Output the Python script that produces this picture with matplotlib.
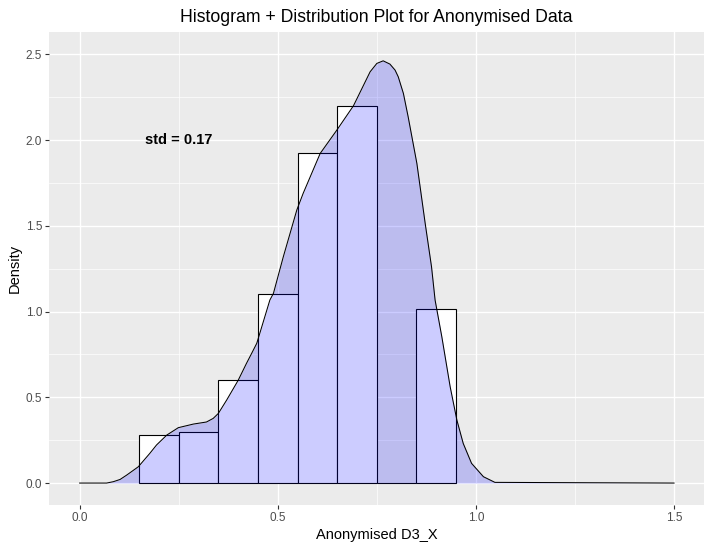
import matplotlib
matplotlib.use("Agg")
import matplotlib.pyplot as plt
from matplotlib.ticker import MultipleLocator

plt.rcParams['font.family'] = ['Liberation Sans', 'DejaVu Sans']

# Histogram bins (left edges, width) and densities
bin_left = [0.15, 0.25, 0.35, 0.45, 0.55, 0.65, 0.75, 0.85]
bin_width = 0.1
bin_density = [0.278, 0.296, 0.599, 1.10, 1.922, 2.200, 0.0, 1.016]

# Density curve
dens_x = [0.0, 0.068, 0.085, 0.102, 0.119, 0.148, 0.177, 0.194, 0.220, 0.249, 0.287,
          0.320, 0.337, 0.350, 0.371, 0.400, 0.421, 0.434, 0.447, 0.480, 0.489, 0.514,
          0.548, 0.564, 0.607, 0.649, 0.691, 0.733, 0.750, 0.766, 0.783, 0.796, 0.804,
          0.817, 0.829, 0.851, 0.872, 0.888, 0.897, 0.914, 0.935, 0.952, 0.968, 0.989,
          1.019, 1.048, 1.5]
dens_y = [0.0, 0.0, 0.008, 0.021, 0.047, 0.095, 0.173, 0.222, 0.280, 0.323, 0.344,
          0.356, 0.377, 0.406, 0.484, 0.599, 0.698, 0.756, 0.815, 1.067, 1.106, 1.320,
          1.592, 1.689, 1.922, 2.058, 2.200, 2.398, 2.447, 2.462, 2.443, 2.408, 2.369,
          2.272, 2.136, 1.864, 1.514, 1.261, 1.067, 0.853, 0.562, 0.367, 0.231, 0.115,
          0.037, 0.004, 0.0]

title = "Histogram + Distribution Plot for Anonymised Data"
xlabel = "Anonymised D3_X"
ylabel = "Density"
annot = "std = 0.17"
annot_pos = (0.25, 2.0)

fig = plt.figure(figsize=(7.12, 5.5), dpi=100)
ax = fig.add_axes([0.0692, 0.0818, 0.9196, 0.8606])
ax.set_facecolor('#EBEBEB')
for s in ax.spines.values():
    s.set_visible(False)

ax.set_xlim(-0.0767, 1.5757)
ax.set_ylim(-0.128, 2.632)
ax.xaxis.set_major_locator(MultipleLocator(0.5))
ax.xaxis.set_minor_locator(MultipleLocator(0.25))
ax.yaxis.set_major_locator(MultipleLocator(0.5))
ax.yaxis.set_minor_locator(MultipleLocator(0.25))
ax.set_xticks([0.0, 0.5, 1.0, 1.5])
ax.set_xticklabels(["0.0", "0.5", "1.0", "1.5"])
ax.set_yticks([0.0, 0.5, 1.0, 1.5, 2.0, 2.5])
ax.set_yticklabels(["0.0", "0.5", "1.0", "1.5", "2.0", "2.5"])
ax.grid(which='major', color='white', linewidth=1.0)
ax.grid(which='minor', color='white', linewidth=0.5)
ax.set_axisbelow(True)
ax.tick_params(which='major', length=2.64, width=0.8, color='#333333',
               labelcolor='#4D4D4D', labelsize=8.45, pad=2.5)
ax.tick_params(which='minor', length=0)

ax.bar(bin_left, bin_density, width=bin_width, align='edge',
       facecolor='white', edgecolor='black', linewidth=0.8, zorder=2)
ax.fill_between(dens_x, dens_y, 0, color='blue', alpha=0.2, linewidth=0, zorder=3)
ax.plot(dens_x, dens_y, color='black', linewidth=0.75, zorder=4)

ax.text(annot_pos[0], annot_pos[1], annot, ha='center', va='center',
        fontsize=10.5, fontweight='bold', color='black', zorder=5)

ax.set_title(title, fontsize=12.7, color='black', pad=7)
ax.set_xlabel(xlabel, fontsize=10.56, labelpad=3)
ax.set_ylabel(ylabel, fontsize=10.56, labelpad=3)

fig.savefig("out.png", dpi=100)
